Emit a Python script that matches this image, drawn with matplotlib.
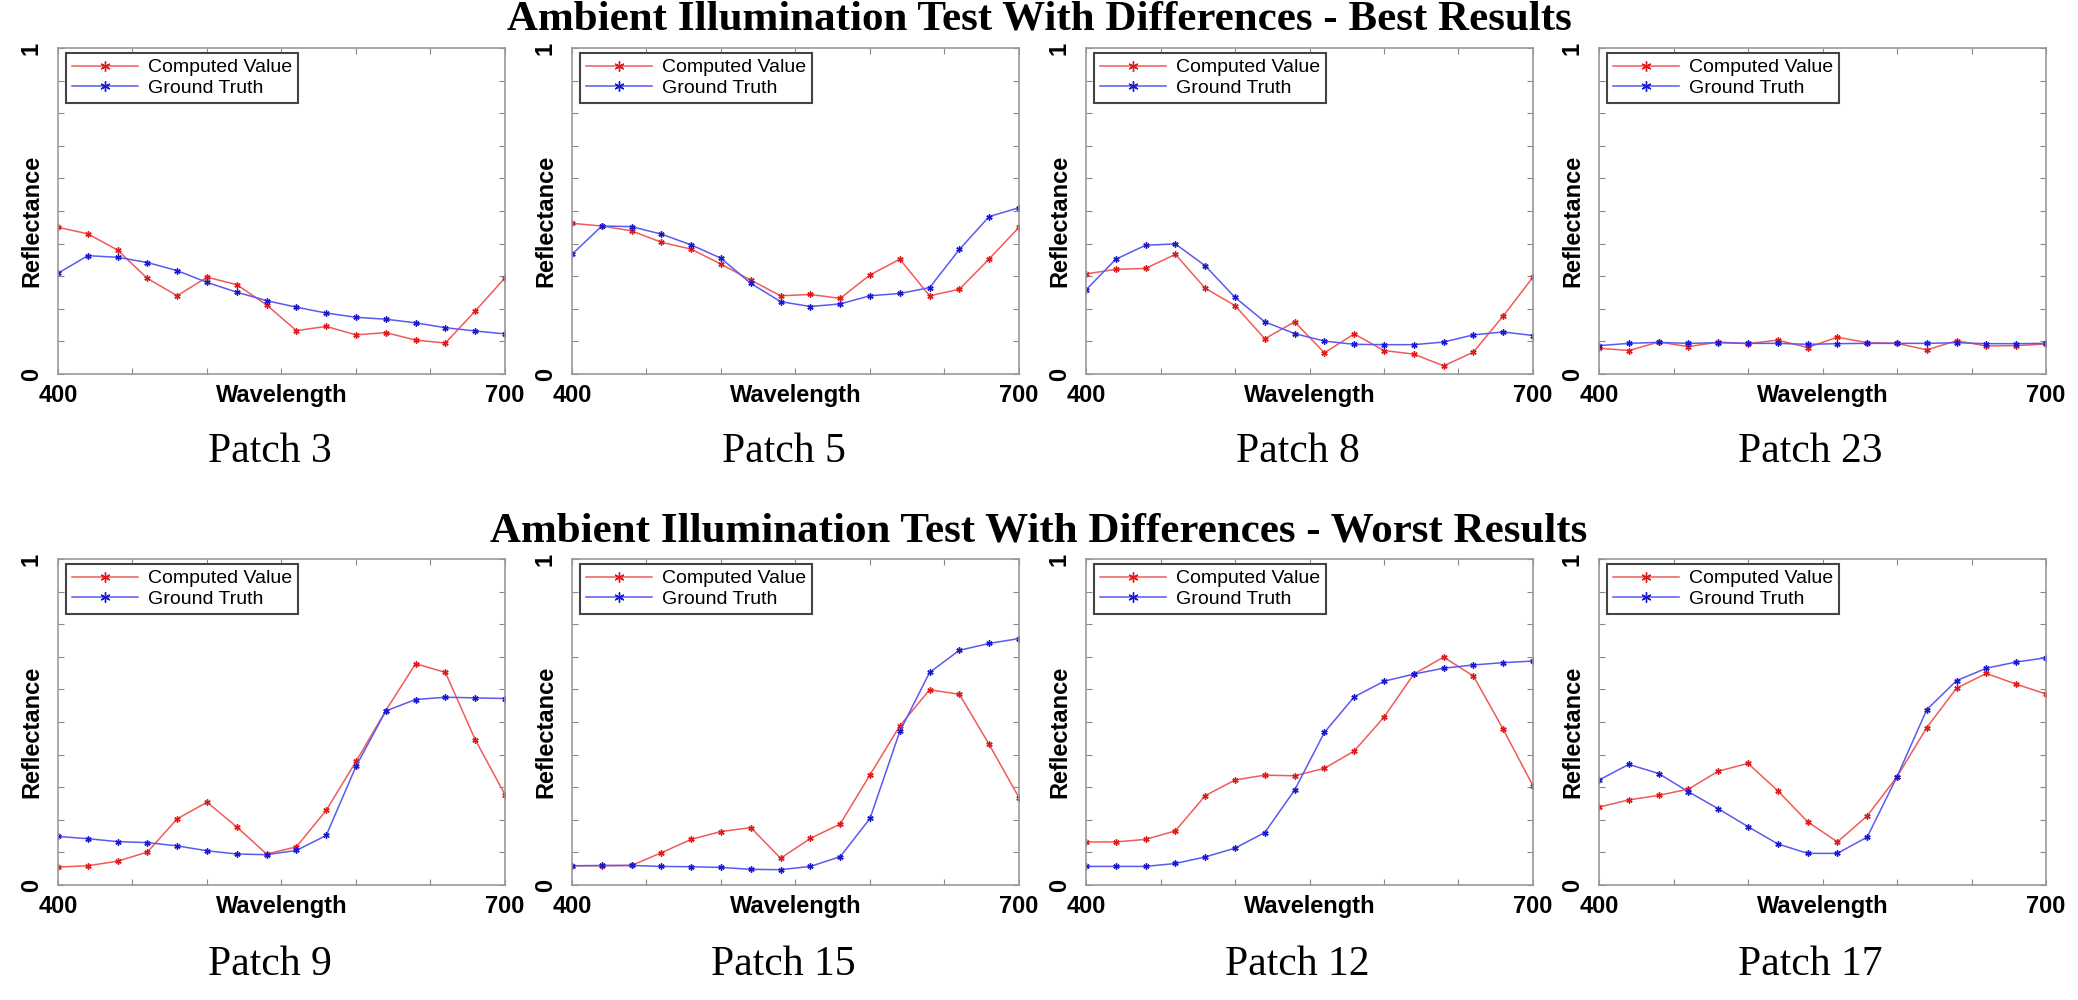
import matplotlib
matplotlib.use("Agg")
import matplotlib.pyplot as plt
import numpy as np

wavelengths = [400, 420, 440, 460, 480, 500, 520, 540, 560, 580, 600, 620, 640, 660, 680, 700]

patch_names = ["Patch 3", "Patch 5", "Patch 8", "Patch 23",
               "Patch 9", "Patch 15", "Patch 12", "Patch 17"]

computed_3 = [0.45, 0.43, 0.38, 0.293, 0.24, 0.297, 0.274, 0.212, 0.133, 0.146, 0.12, 0.127, 0.104, 0.095, 0.193, 0.295]
truth_3 = [0.309, 0.363, 0.358, 0.342, 0.317, 0.281, 0.251, 0.225, 0.205, 0.187, 0.174, 0.168, 0.157, 0.142, 0.132, 0.123]

computed_5 = [0.462, 0.454, 0.439, 0.404, 0.383, 0.337, 0.288, 0.24, 0.244, 0.232, 0.304, 0.352, 0.24, 0.26, 0.353, 0.45]
truth_5 = [0.367, 0.454, 0.452, 0.429, 0.396, 0.355, 0.278, 0.222, 0.207, 0.215, 0.24, 0.247, 0.265, 0.382, 0.483, 0.51]

computed_8 = [0.307, 0.321, 0.324, 0.367, 0.263, 0.21, 0.108, 0.16, 0.065, 0.123, 0.072, 0.061, 0.025, 0.067, 0.178, 0.297]
truth_8 = [0.258, 0.352, 0.395, 0.399, 0.332, 0.235, 0.16, 0.124, 0.101, 0.091, 0.09, 0.09, 0.098, 0.12, 0.129, 0.118]

computed_23 = [0.079, 0.072, 0.098, 0.084, 0.098, 0.093, 0.104, 0.081, 0.113, 0.096, 0.094, 0.074, 0.102, 0.086, 0.087, 0.092]
truth_23 = [0.087, 0.094, 0.097, 0.094, 0.096, 0.094, 0.094, 0.091, 0.093, 0.094, 0.094, 0.094, 0.096, 0.093, 0.093, 0.094]

computed_9 = [0.055, 0.059, 0.073, 0.101, 0.203, 0.254, 0.178, 0.095, 0.117, 0.229, 0.379, 0.535, 0.679, 0.652, 0.446, 0.277]
truth_9 = [0.149, 0.142, 0.133, 0.130, 0.12, 0.105, 0.095, 0.093, 0.106, 0.152, 0.364, 0.534, 0.569, 0.576, 0.574, 0.572]

computed_15 = [0.059, 0.059, 0.06, 0.099, 0.14, 0.164, 0.176, 0.082, 0.143, 0.187, 0.338, 0.488, 0.599, 0.585, 0.431, 0.268]
truth_15 = [0.059, 0.06, 0.06, 0.057, 0.056, 0.054, 0.048, 0.047, 0.057, 0.087, 0.204, 0.471, 0.652, 0.72, 0.741, 0.756]

computed_12 = [0.132, 0.132, 0.14, 0.166, 0.274, 0.322, 0.337, 0.335, 0.358, 0.411, 0.515, 0.647, 0.699, 0.641, 0.478, 0.304]
truth_12 = [0.057, 0.057, 0.057, 0.066, 0.086, 0.113, 0.161, 0.291, 0.468, 0.577, 0.625, 0.647, 0.665, 0.675, 0.682, 0.687]

computed_17 = [0.239, 0.261, 0.275, 0.294, 0.349, 0.373, 0.289, 0.194, 0.132, 0.212, 0.332, 0.483, 0.604, 0.649, 0.616, 0.586]
truth_17 = [0.322, 0.37, 0.342, 0.286, 0.234, 0.179, 0.126, 0.097, 0.097, 0.147, 0.332, 0.538, 0.627, 0.665, 0.684, 0.697]

computed_all = [computed_3, computed_5, computed_8, computed_23,
                computed_9, computed_15, computed_12, computed_17]
truth_all = [truth_3, truth_5, truth_8, truth_23,
             truth_9, truth_15, truth_12, truth_17]

row_titles = ["Ambient Illumination Test With Differences - Best Results",
              "Ambient Illumination Test With Differences - Worst Results"]

x_ticks = [400, 450, 500, 550, 600, 650, 700]
x_ticklabels = ["400", "", "", "", "", "", "700"]
y_ticks = [0.0, 0.1, 0.2, 0.3, 0.4, 0.5, 0.6, 0.7, 0.8, 0.9, 1.0]
y_ticklabels = ["0", "", "", "", "", "", "", "", "", "", "1"]

SANS = ["Liberation Sans", "DejaVu Sans"]
SERIF = ["Liberation Serif", "DejaVu Serif"]

W, H = 2078, 1000
fig = plt.figure(figsize=(W / 100, H / 100), dpi=100)
fig.patch.set_facecolor("white")

lefts = [58, 572, 1086, 1599]
tops = [48, 559]
aw, ah = 447, 326
patch_label_y = [452, 965]
title_y = [20, 531]

for i in range(8):
    r, c = divmod(i, 4)
    l = lefts[c]
    t = tops[r]
    ax = fig.add_axes([l / W, 1 - (t + ah) / H, aw / W, ah / H])
    ax.plot(wavelengths, computed_all[i], "-", color="#f25a5a", lw=1.1,
            marker=(6, 2, 0), markersize=4.5, markeredgecolor="#e01818",
            markeredgewidth=1.0, label="Computed Value")
    ax.plot(wavelengths, truth_all[i], "-", color="#5a5af2", lw=1.1,
            marker=(6, 2, 0), markersize=4.5, markeredgecolor="#1818d0",
            markeredgewidth=1.0, label="Ground Truth")
    ax.set_xlim(400, 700)
    ax.set_ylim(0, 1)
    ax.set_xticks(x_ticks)
    ax.set_xticklabels(x_ticklabels, fontsize=17, fontweight="bold", family=SANS)
    ax.set_yticks(y_ticks)
    ax.set_yticklabels(y_ticklabels, fontsize=17, fontweight="bold", family=SANS,
                       rotation=90, va="center")
    ax.tick_params(axis="both", direction="in", length=4, width=0.8,
                   color="#888888", top=True, right=True)
    ax.tick_params(axis="x", pad=7)
    ax.tick_params(axis="y", pad=11)
    for sp in ax.spines.values():
        sp.set_color("#999999")
        sp.set_linewidth(1.2)
    ax.set_xlabel("Wavelength", fontsize=17, fontweight="bold", family=SANS)
    ax.xaxis.set_label_coords(0.5, -0.03)
    ax.set_ylabel("Reflectance", fontsize=17, fontweight="bold", family=SANS)
    ax.yaxis.set_label_coords(-0.032, 0.47)
    leg = ax.legend(loc="upper left", bbox_to_anchor=(8 / aw, 1 - 5 / ah),
                    borderaxespad=0, fancybox=False, edgecolor="#444444",
                    framealpha=1, prop={"family": SANS, "size": 14},
                    handlelength=3.4, borderpad=0.3, labelspacing=0.15,
                    handletextpad=0.5, markerscale=1.6)
    leg.get_frame().set_linewidth(1.5)
    fig.text((l + aw / 2 - 12) / W, 1 - patch_label_y[r] / H, patch_names[i],
             ha="center", va="center", fontsize=30, family=SERIF)

for r in range(2):
    fig.text(0.5, 1 - title_y[r] / H, row_titles[r], ha="center", va="center",
             fontsize=31, fontweight="bold", family=SERIF)

fig.savefig("out.png", dpi=100, facecolor="white")
